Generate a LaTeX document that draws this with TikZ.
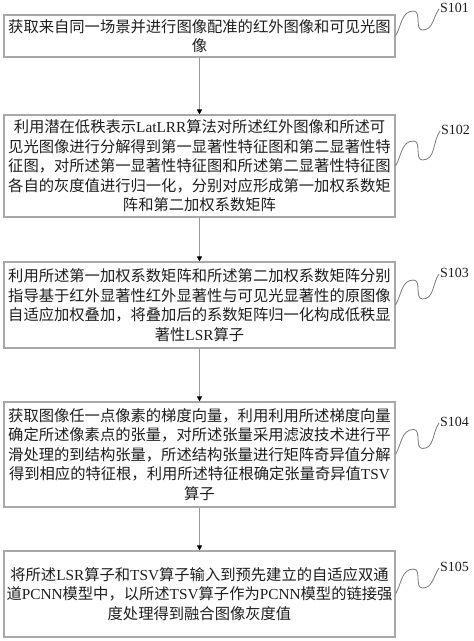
\documentclass[tikz,border=0pt]{standalone}
\usepackage{fontspec}
\setmainfont{Noto Sans CJK SC}
\newfontfamily\lat{Liberation Serif}
\usetikzlibrary{arrows.meta}
\definecolor{bordergray}{HTML}{A8A8A8}
\definecolor{linegray}{HTML}{999999}
\definecolor{txt}{HTML}{1E1E1E}
\tikzset{
  stepbox/.style={draw=bordergray, line width=1.1pt, minimum width=391pt, inner sep=0pt,
    align=center, text=txt, font=\fontsize{15.3}{19.5}\selectfont},
  flow/.style={draw=linegray, line width=1pt, -{Triangle[black,width=5pt,length=5pt]}},
  steplabel/.style={anchor=west, inner sep=0pt, text=txt, font=\lat\fontsize{14}{16}\selectfont},
  squig/.style={draw=linegray!80!black, line width=0.8pt},
}
\begin{document}
\begin{tikzpicture}[x=1pt,y=1pt]
\useasboundingbox (0,0) rectangle (474,-641);
% boxes
\node[stepbox, minimum height=42pt] (b1) at (199.5,-36)
  {获取来自同一场景并进行图像配准的红外图像和可见光图\\像};
\node[stepbox, minimum height=102pt] (b2) at (199.5,-166)
  {利用潜在低秩表示{\lat LatLRR}算法对所述红外图像和所述可\\见光图像进行分解得到第一显著性特征图和第二显著性特\\征图，对所述第一显著性特征图和所述第二显著性特征图\\各自的灰度值进行归一化，分别对应形成第一加权系数矩\\阵和第二加权系数矩阵};
\node[stepbox, minimum height=86pt] (b3) at (199.5,-305)
  {利用所述第一加权系数矩阵和所述第二加权系数矩阵分别\\指导基于红外显著性红外显著性与可见光显著性的原图像\\自适应加权叠加，将叠加后的系数矩阵归一化构成低秩显\\著性{\lat LSR}算子};
\node[stepbox, minimum height=105pt] (b4) at (199.5,-454.5)
  {获取图像任一点像素的梯度向量，利用利用所述梯度向量\\确定所述像素点的张量，对所述张量采用滤波技术进行平\\滑处理的到结构张量，所述结构张量进行矩阵奇异值分解\\得到相应的特征根，利用所述特征根确定张量奇异值{\lat TSV}\\算子};
\node[stepbox, minimum height=86pt] (b5) at (199.5,-594)
  {将所述{\lat LSR}算子和{\lat TSV}算子输入到预先建立的自适应双通\\道{\lat PCNN}模型中，以所述{\lat TSV}算子作为{\lat PCNN}模型的链接强\\度处理得到融合图像灰度值};
% arrows
\draw[flow] (b1) -- (b2);
\draw[flow] (b2) -- (b3);
\draw[flow] (b3) -- (b4);
\draw[flow] (b4) -- (b5);
% labels
\node[steplabel] (s1) at (440,-8) {S101};
\node[steplabel] (s2) at (441,-130) {S102};
\node[steplabel] (s3) at (440,-273) {S103};
\node[steplabel] (s4) at (440,-422) {S104};
\node[steplabel] (s5) at (440,-567) {S105};
% squiggles
\foreach \i in {1,...,5}{
  \draw[squig] (b\i.east) to[out=60,in=180] ++(18,25) to[out=0,in=180] ++(9,-19) to[out=0,in=235] ([xshift=-1pt,yshift=-1pt]s\i.west);
}
\end{tikzpicture}
\end{document}
